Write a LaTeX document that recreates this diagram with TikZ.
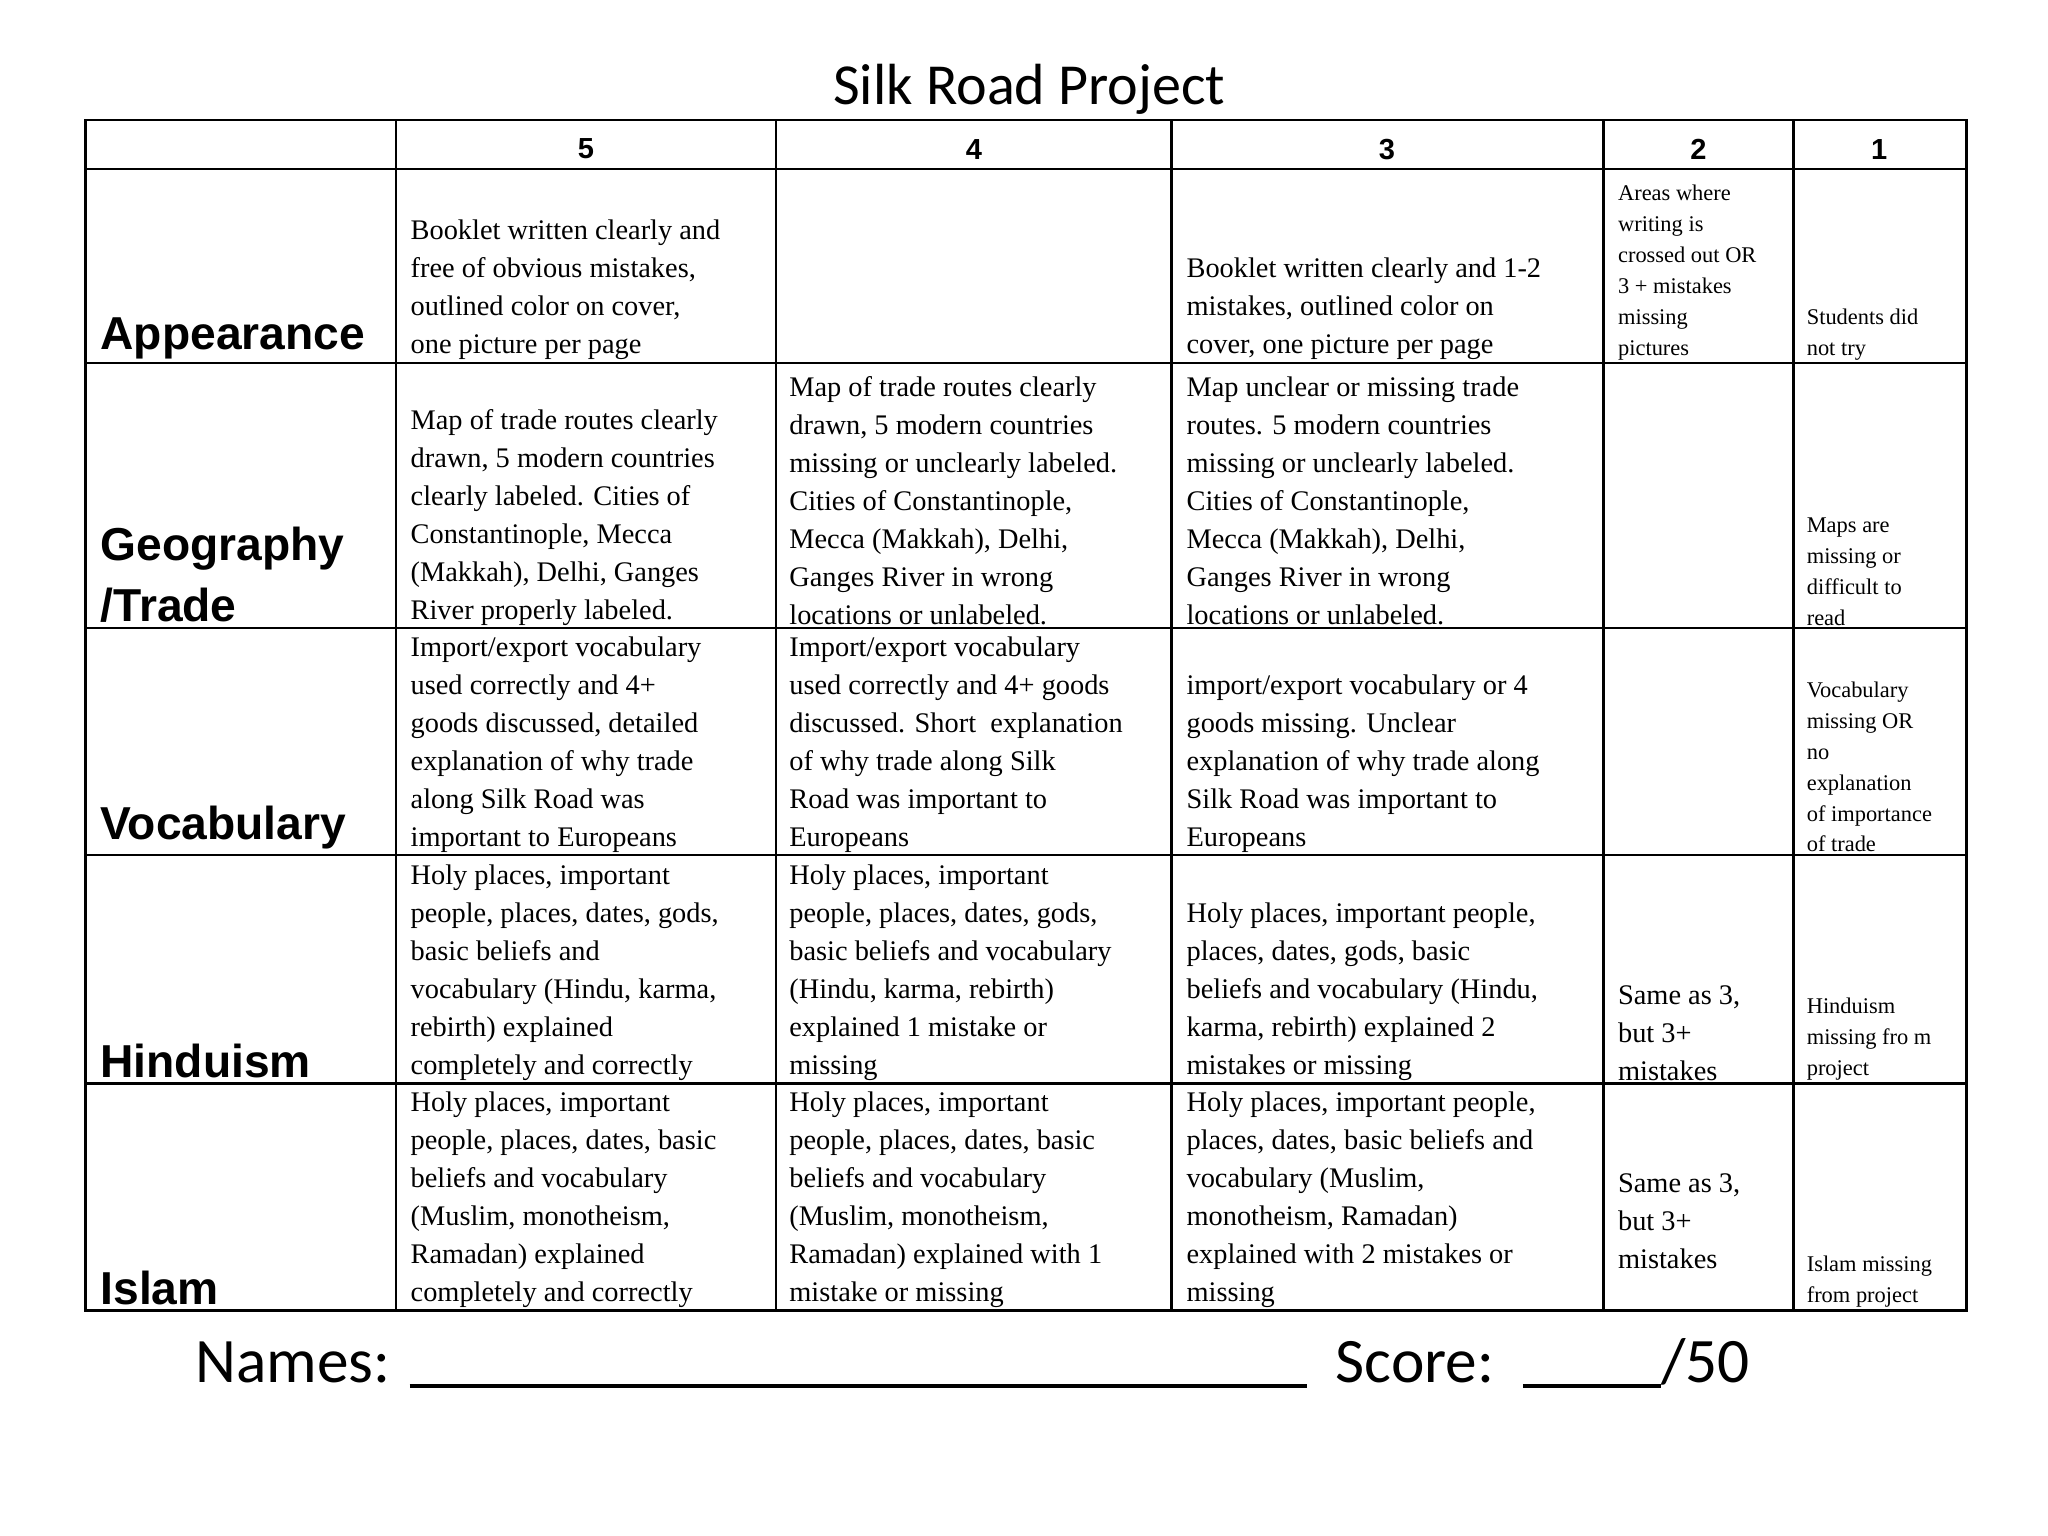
\documentclass[tikz,border=0pt]{standalone}
\usepackage{fontspec}
\setmainfont{Liberation Serif}
\newfontfamily\arfont{Liberation Sans}
\newfontfamily\calfont{Carlito}
\begin{document}
\begin{tikzpicture}[x=1pt,y=-1pt,
 body/.style={anchor=south west,inner sep=0pt,align=left,font=\fontsize{21.5}{28.8}\selectfont},
 small/.style={anchor=south west,inner sep=0pt,align=left,font=\fontsize{17}{23.4}\selectfont},
 lab/.style={anchor=south west,inner sep=0pt,align=left,font=\arfont\bfseries\fontsize{35}{46}\selectfont},
 hd/.style={inner sep=0pt,font=\arfont\bfseries\fontsize{22}{26}\selectfont},
 grid/.style={line width=2pt}]
\useasboundingbox (0,0) rectangle (1552,1164);
\node[inner sep=0pt,font=\calfont\fontsize{44}{50}\selectfont] (title) at (780,68) {Silk Road Project};
\draw[grid] (65,91) rectangle (1490,993);
\foreach \x in {300,588,888,1215,1359} \draw[grid] (\x,91) -- (\x,993);
\foreach \y in {128,275,476,648,821} \draw[grid] (65,\y) -- (1490,\y);
\node[hd] (h5) at (444,113) {5};
\node[hd] (h4) at (738,113) {4};
\node[hd] (h3) at (1051,113) {3};
\node[hd] (h2) at (1287,113) {2};
\node[hd] (h1) at (1424,113) {1};
% labels
\node[lab] (l1) at (76,272) {Appearance};
\node[lab] (l2) at (76,472) {Geography\\/Trade};
\node[lab] (l3) at (76,644) {Vocabulary};
\node[lab] (l4) at (76,817) {Hinduism};
\node[lab] (l5) at (76,989) {Islam};
% row 1
\node[body] (a5) at (311,273) {Booklet written clearly and\\free of obvious mistakes,\\outlined color on cover,\\one picture per page};
\node[body] (a3) at (899,273) {Booklet written clearly and 1-2\\mistakes, outlined color on\\cover, one picture per page};
\node[small] (a2) at (1226,273) {Areas where\\writing is\\crossed out OR\\3 + mistakes\\missing\\pictures};
\node[small] (a1) at (1369,273) {Students did\\not try};
% row 2
\node[body] (g5) at (311,474) {Map of trade routes clearly\\drawn, 5 modern countries\\clearly labeled. Cities of\\Constantinople, Mecca\\(Makkah), Delhi, Ganges\\River properly labeled.};
\node[body] (g4) at (598,474) {Map of trade routes clearly\\drawn, 5 modern countries\\missing or unclearly labeled.\\Cities of Constantinople,\\Mecca (Makkah), Delhi,\\Ganges River in wrong\\locations or unlabeled.};
\node[body] (g3) at (899,474) {Map unclear or missing trade\\routes. 5 modern countries\\missing or unclearly labeled.\\Cities of Constantinople,\\Mecca (Makkah), Delhi,\\Ganges River in wrong\\locations or unlabeled.};
\node[small] (g1) at (1369,474) {Maps are\\missing or\\difficult to\\read};
% row 3
\node[body] (v5) at (311,646) {Import/export vocabulary\\used correctly and 4+\\goods discussed, detailed\\explanation of why trade\\along Silk Road was\\important to Europeans};
\node[body] (v4) at (598,646) {Import/export vocabulary\\used correctly and 4+ goods\\discussed. Short\ \ explanation\\of why trade along Silk\\Road was important to\\Europeans};
\node[body] (v3) at (899,646) {import/export vocabulary or 4\\goods missing. Unclear\\explanation of why trade along\\Silk Road was important to\\Europeans};
\node[small] (v1) at (1369,646) {Vocabulary\\missing OR\\no\\explanation\\of importance\\of trade};
% row 4
\node[body] (h5t) at (311,819) {Holy places, important\\people, places, dates, gods,\\basic beliefs and\\vocabulary (Hindu, karma,\\rebirth) explained\\completely and correctly};
\node[body] (h4t) at (598,819) {Holy places, important\\people, places, dates, gods,\\basic beliefs and vocabulary\\(Hindu, karma, rebirth)\\explained 1 mistake or\\missing};
\node[body] (h3t) at (899,819) {Holy places, important people,\\places, dates, gods, basic\\beliefs and vocabulary (Hindu,\\karma, rebirth) explained 2\\mistakes or missing};
\node[body] (h2t) at (1226,819) {Same as 3,\\but 3+\\mistakes};
\node[small] (h1t) at (1369,819) {Hinduism\\missing fro m\\project};
% row 5
\node[body] (i5) at (311,991) {Holy places, important\\people, places, dates, basic\\beliefs and vocabulary\\(Muslim, monotheism,\\Ramadan) explained\\completely and correctly};
\node[body] (i4) at (598,991) {Holy places, important\\people, places, dates, basic\\beliefs and vocabulary\\(Muslim, monotheism,\\Ramadan) explained with 1\\mistake or missing};
\node[body] (i3) at (899,991) {Holy places, important people,\\places, dates, basic beliefs and\\vocabulary (Muslim,\\monotheism, Ramadan)\\explained with 2 mistakes or\\missing};
\node[body] (i2) at (1226,962) {Same as 3,\\but 3+\\mistakes};
\node[small] (i1) at (1369,991) {Islam missing\\from project};
\node[anchor=west,inner sep=0pt,font=\calfont\fontsize{48}{54}\selectfont] (names) at (148,1033) {Names: \rule[-4pt]{680pt}{2.5pt}\ \ Score:\ \ \rule[-4pt]{105pt}{2.5pt}/50};
\end{tikzpicture}
\end{document}
